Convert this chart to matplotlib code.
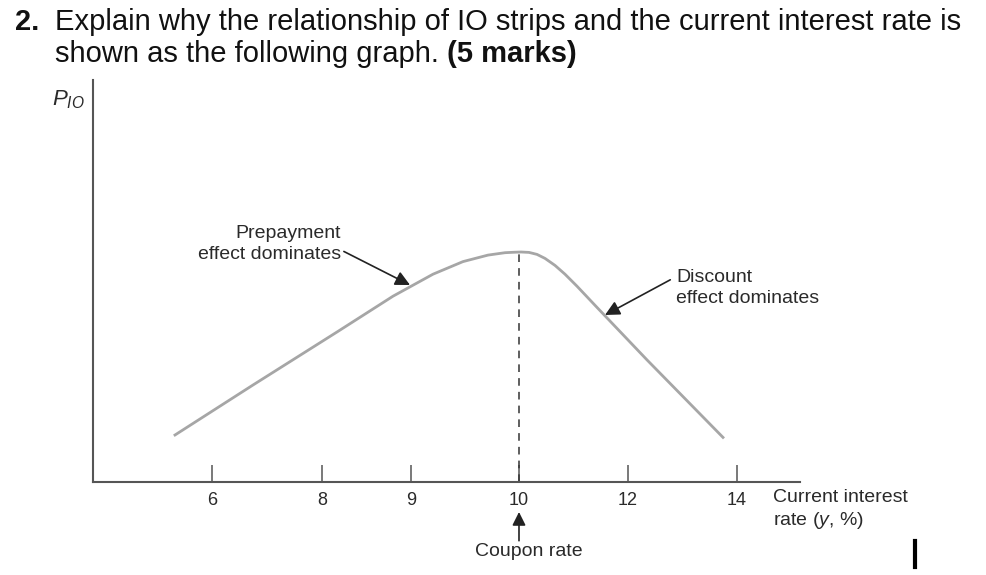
import numpy as np
import matplotlib
matplotlib.use("Agg")
import matplotlib.pyplot as plt
from matplotlib.lines import Line2D

plt.rcParams['font.family'] = ['Liberation Sans', 'DejaVu Sans']
plt.rcParams['mathtext.fontset'] = 'custom'
plt.rcParams['mathtext.it'] = 'Liberation Sans:italic'
plt.rcParams['mathtext.rm'] = 'Liberation Sans'

# chart values (schematic units, x from the y-axis, y from the x-axis)
tick_pos = [119, 229, 318, 426, 535, 644]
tick_labels = ['6', '8', '9', '10', '12', '14']
coupon_x = 426
curve_x = [82, 160, 244, 300, 340, 370, 395, 412, 420, 428, 436, 444, 452, 462, 472, 484, 504, 554, 630]
curve_y = [47, 97, 150, 185.8, 207.8, 220.4, 226.9, 229.3, 229.7, 230, 229.6, 227.6, 223.6,
           216.6, 207.8, 195.8, 174.6, 122.1, 44.6]

axis_col = '#555555'
text_col = '#2a2a2a'

fig = plt.figure(figsize=(9.87, 5.75), dpi=100)
ax = fig.add_axes([93/987, 93/575, 707/987, 402/575])
ax.set_xlim(0, 707)
ax.set_ylim(0, 402)
for s in ['top', 'right']:
    ax.spines[s].set_visible(False)
for s in ['left', 'bottom']:
    ax.spines[s].set_color(axis_col)
    ax.spines[s].set_linewidth(1.5)

ax.set_yticks([])
ax.set_xticks(tick_pos)
ax.set_xticklabels(tick_labels)
ax.tick_params(axis='x', direction='in', length=12, width=1.1, color=axis_col,
               labelsize=13, labelcolor=text_col, pad=7)

# the curve and the coupon line
ax.plot(curve_x, curve_y, color='#a6a6a6', lw=2.0, solid_joinstyle='round')
ax.plot([coupon_x, coupon_x], [0, max(curve_y)], color='#333333', lw=1.1, ls=(0, (5, 4)))

# labels
ax.text(-8, 382, '$P_{IO}$', ha='right', va='center', fontsize=16, color=text_col)
ax.text(680, -28, 'Current interest\nrate ($y$, %)', ha='left', va='center',
        fontsize=14, color=text_col, linespacing=1.3)

arrow = dict(arrowstyle='-|>', color='#222222', lw=1.2, mutation_scale=22, shrinkA=0, shrinkB=0)
ax.annotate('Prepayment\neffect dominates', xy=(317, 197), xytext=(248, 238),
            ha='right', va='center', fontsize=14, color=text_col, linespacing=1.25,
            arrowprops=dict(arrow, relpos=(1.02, 0.3)), annotation_clip=False)
ax.annotate('Discount\neffect dominates', xy=(512, 167), xytext=(583, 194),
            ha='left', va='center', fontsize=14, color=text_col, linespacing=1.25,
            arrowprops=dict(arrow, relpos=(-0.04, 0.72)), annotation_clip=False)
ax.annotate('Coupon rate', xy=(coupon_x, -30), xytext=(coupon_x + 10, -70),
            ha='center', va='center', fontsize=14, color=text_col,
            arrowprops=dict(arrow, relpos=(0.407, 1.0), mutation_scale=20),
            annotation_clip=False)

# question text
fig.text(15/987, 1 - 30/575, '2.', fontsize=21, fontweight='bold', color='#111111')
t1 = fig.text(55/987, 1 - 30/575,
              'Explain why the relationship of IO strips and the current interest rate is',
              fontsize=21, color='#111111')
t2 = fig.text(55/987, 1 - 62/575, 'shown as the following graph. ', fontsize=21, color='#111111')
fig.canvas.draw()
bb = t2.get_window_extent(fig.canvas.get_renderer())
fig.text(bb.x1 / fig.bbox.width, 1 - 62/575, '(5 marks)', fontsize=21,
         fontweight='bold', color='#111111')

# cursor mark at bottom right
fig.add_artist(Line2D([915/987, 915/987], [1 - 567/575, 1 - 541/575], color='black', lw=3))

fig.savefig('out.png', dpi=100)
